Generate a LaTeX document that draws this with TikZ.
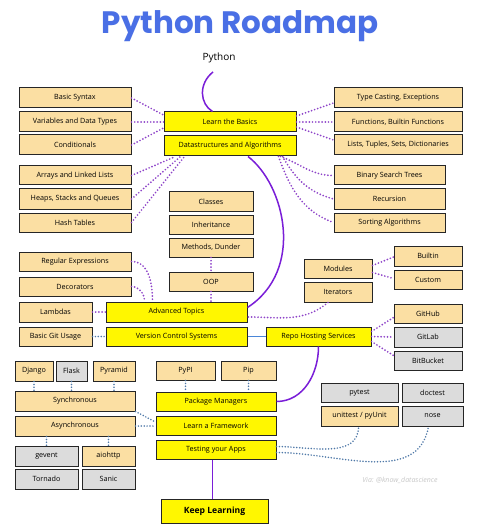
\documentclass[tikz,border=0pt]{standalone}
\usepackage{fontspec}
\setmainfont{Open Sans}
\newfontfamily\ttlfont{Poppins}
\usetikzlibrary{calc}
\definecolor{beige}{HTML}{FBDFA3}
\definecolor{yel}{HTML}{FFF700}
\definecolor{gry}{HTML}{DCDCDC}
\definecolor{pur}{HTML}{8E44C9}
\definecolor{purs}{HTML}{7A1ED8}
\definecolor{blu}{HTML}{4F79A8}
\definecolor{blus}{HTML}{4A86D8}
\definecolor{ttl}{HTML}{4A6FE5}
\newcommand\bx[7]{\node[#6, minimum width={(#4-#2)*1pt}, minimum height={(#5-#3)*1pt}] (#1) at ({(#2+#4)/2},{(#3+#5)/2}) {#7};}
\tikzset{
  boxbase/.style={rectangle, draw=black!85, line width=1pt, inner sep=1pt, font=\fontsize{7.2}{8}\selectfont},
  bei/.style={boxbase, fill=beige},
  yl/.style={boxbase, fill=yel},
  gr/.style={boxbase, fill=gry},
  pdot/.style={draw=pur, line width=1.9pt, line cap=round, dash pattern=on 0pt off 3.2pt},
  bdot/.style={draw=blu, line width=1.7pt, line cap=round, dash pattern=on 0pt off 2.9pt},
  psol/.style={draw=purs, line width=1.5pt},
  bsol/.style={draw=blus, line width=1.3pt}
}
\begin{document}
\begin{tikzpicture}[x=1pt,y=-1pt]
\useasboundingbox[fill=white] (0,0) rectangle (478,529);
\node[font=\ttlfont\bfseries\fontsize{31}{31}\selectfont, text=ttl] (title) at (240,26) {Python Roadmap};
\node[font=\fontsize{10}{12}\selectfont] (pyl) at (219,58) {Python};
\node[font=\itshape\fontsize{7}{8}\selectfont, text=black!22] (wm) at (400,480) {Via: @know\_datascience};
% left column
\bx{bs}{19}{88}{131}{108}{bei}{Basic Syntax}
\bx{vd}{19}{112}{131}{132}{bei}{Variables and Data Types}
\bx{cd}{19}{135}{131}{155}{bei}{Conditionals}
\bx{al}{19}{166}{131}{185}{bei}{Arrays and Linked Lists}
\bx{hs}{19}{189}{131}{209}{bei}{Heaps, Stacks and Queues}
\bx{ht}{19}{213}{131}{232}{bei}{Hash Tables}
\bx{lb}{164}{112}{296}{132}{yl}{Learn the Basics}
\bx{da}{164}{136}{296}{156}{yl}{Datastructures and Algorithms}
\bx{tc}{334}{88}{462}{108}{bei}{Type Casting, Exceptions}
\bx{fb}{334}{112}{462}{132}{bei}{Functions, Builtin Functions}
\bx{lt}{334}{135}{462}{155}{bei}{Lists, Tuples, Sets, Dictionaries}
\bx{bst}{334}{166}{445}{185}{bei}{Binary Search Trees}
\bx{rec}{334}{189}{445}{209}{bei}{Recursion}
\bx{sa}{334}{213}{445}{232}{bei}{Sorting Algorithms}
\bx{cl}{169}{192}{253}{211}{bei}{Classes}
\bx{inh}{169}{215}{253}{234}{bei}{Inheritance}
\bx{md}{169}{238}{253}{257}{bei}{Methods, Dunder}
\bx{oop}{169}{272}{253}{291}{bei}{OOP}
\bx{re}{19}{252}{131}{271}{bei}{Regular Expressions}
\bx{dec}{19}{277}{131}{296}{bei}{Decorators}
\bx{lam}{19}{302}{92}{322}{bei}{Lambdas}
\bx{bg}{19}{327}{92}{346}{bei}{Basic Git Usage}
\bx{at}{106}{302}{247}{322}{yl}{Advanced Topics}
\bx{vcs}{106}{327}{247}{346}{yl}{Version Control Systems}
\bx{mod}{304}{259}{372}{278}{bei}{Modules}
\bx{it}{304}{282}{372}{302}{bei}{Iterators}
\bx{bi}{394}{246}{462}{266}{bei}{Builtin}
\bx{cu}{394}{270}{462}{289}{bei}{Custom}
\bx{gh}{394}{304}{462}{323}{bei}{GitHub}
\bx{gl}{394}{327}{462}{347}{gr}{GitLab}
\bx{bb}{394}{351}{462}{370}{gr}{BitBucket}
\bx{rhs}{266}{327}{371}{346}{yl}{Repo Hosting Services}
\bx{dj}{15}{361}{53}{381}{bei}{Django}
\bx{fl}{56}{361}{87}{381}{gr}{Flask}
\bx{py}{93}{361}{135}{381}{bei}{Pyramid}
\bx{sy}{15}{391}{135}{411}{bei}{Synchronous}
\bx{as}{15}{416}{135}{436}{bei}{Asynchronous}
\bx{ge}{15}{446}{78}{466}{gr}{gevent}
\bx{ai}{82}{446}{135}{466}{bei}{aiohttp}
\bx{to}{15}{469}{78}{489}{gr}{Tornado}
\bx{sn}{82}{469}{135}{489}{gr}{Sanic}
\bx{pypi}{156}{361}{215}{380}{bei}{PyPI}
\bx{pip}{221}{361}{276}{380}{bei}{Pip}
\bx{pm}{156}{392}{276}{411}{yl}{Package Managers}
\bx{lf}{156}{416}{276}{435}{yl}{Learn a Framework}
\bx{ta}{156}{440}{276}{459}{yl}{Testing your Apps}
\bx{kl}{161}{499}{268}{523}{yl, font=\bfseries\fontsize{8.6}{10}\selectfont}{Keep Learning}
\bx{pt}{321}{383}{398}{402}{gr}{pytest}
\bx{dt}{402}{383}{463}{402}{gr}{doctest}
\bx{ut}{321}{406}{398}{426}{bei}{unittest / pyUnit}
\bx{no}{402}{406}{463}{426}{gr}{nose}
% dotted purple connectors
\draw[pdot] (bs.east) -- ($(lb.west)+(0,-7)$);
\draw[pdot] (vd.east) -- (lb.west);
\draw[pdot] (cd.east) -- ($(lb.west)+(0,6)$);
\draw[pdot] (al.east) -- ($(da.south west)+(12,0)$);
\draw[pdot] (hs.east) -- ($(da.south west)+(17,0)$);
\draw[pdot] (ht.east) -- ($(da.south west)+(21,0)$);
\draw[pdot] ($(lb.east)+(0,-6)$) -- ($(tc.west)+(0,5)$);
\draw[pdot] (lb.east) -- (fb.west);
\draw[pdot] ($(lb.east)+(0,5)$) -- ($(lt.west)+(0,-5)$);
\draw[pdot] ($(da.south east)+(-16,0)$) to[out=-20,in=180] (bst.west);
\draw[pdot] ($(da.south east)+(-14,0)$) to[out=-60,in=165] (rec.west);
\draw[pdot] ($(da.south east)+(-18,0)$) to[out=-70,in=160] (sa.west);
\draw[pdot] (md.south) -- (oop.north);
\draw[pdot] (oop.south) -- (oop.south |- at.north);
\draw[pdot] (re.east) to[out=0,in=90] ($(at.north west)+(47,0)$);
\draw[pdot] (dec.east) to[out=0,in=90] ($(at.north west)+(39,0)$);
\draw[pdot] (lam.east) -- (lam.east -| at.west);
\draw[pdot] ($(it.south)+(-10,0)$) to[out=-140,in=0] ($(at.east)+(0,5)$);
\draw[pdot] ($(mod.east)+(0,-3)$) -- ($(bi.west)+(0,1)$);
\draw[pdot] ($(mod.east)+(0,4)$) -- ($(cu.west)+(0,-1)$);
\draw[pdot] ($(rhs.east)+(0,-5)$) -- ($(gh.west)+(0,4)$);
\draw[pdot] (rhs.east) -- (gl.west);
\draw[pdot] ($(rhs.east)+(0,5)$) -- ($(bb.west)+(0,-5)$);
% solid connectors
\draw[bsol] (vcs.east) -- (rhs.west);
\coordinate (ps) at (213,72);
\draw[psol] (ps) .. controls (198,84) and (200,104) .. ($(lb.north west)+(49,0)$);
\draw[psol] ($(da.south)+(18,0)$) .. controls (285,185) and (305,270) .. ($(at.north east)+(0,6)$);
\draw[psol] (rhs.south) to[out=-90,in=0] (pm.east);
\draw[psol] ($(ta.south west)+(57,0)$) -- ($(kl.north west)+(52,0)$);
% blue dotted connectors
\draw[bdot] (bg.east) -- (bg.east -| vcs.west);
\draw[bdot] (dj.south) -- (dj.south |- sy.north);
\draw[bdot] (fl.south) -- (fl.south |- sy.north);
\draw[bdot] (py.south) -- (py.south |- sy.north);
\draw[bdot] (ge.north |- as.south) -- (ge.north);
\draw[bdot] (ai.north |- as.south) -- (ai.north);
\draw[bdot] (sy.south east) -- ($(lf.west)+(0,-3.5)$);
\draw[bdot] (as.east) -- (as.east -| lf.west);
\draw[bdot] (pypi.south) -- (pypi.south |- pm.north);
\draw[bdot] (pip.south) -- (pip.south |- pm.north);
\draw[bdot] ($(ta.east)+(0,-3)$) to[out=0,in=-90] ($(ut.south)+(-1,0)$);
\draw[bdot] ($(ta.east)+(0,3)$) to[out=0,in=-100] ($(no.south)+(-4,0)$);
\end{tikzpicture}
\end{document}
